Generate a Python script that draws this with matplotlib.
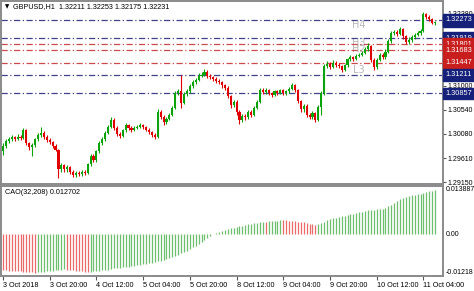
import numpy as np
import matplotlib
matplotlib.use("Agg")
import matplotlib.pyplot as plt
import matplotlib.transforms as mtransforms

# ---- data (GBPUSD H1) ----
first_open = 1.2975
closes = [1.2985, 1.2995, 1.2998, 1.3002, 1.2999, 1.3003, 1.3001, 1.3016, 1.2990, 1.2983,
          1.2986, 1.2998, 1.3006, 1.3010, 1.3003, 1.2997, 1.2992, 1.2985, 1.2978, 1.2940,
          1.2948, 1.2940, 1.2944, 1.2935, 1.2929, 1.2934, 1.2931, 1.2936, 1.2934, 1.2950,
          1.2966, 1.2958, 1.2975, 1.2990, 1.2998, 1.3010, 1.3022, 1.3035, 1.3020, 1.3008,
          1.3005, 1.3015, 1.3025, 1.3020, 1.3016, 1.3020, 1.3022, 1.3025, 1.3021, 1.3016,
          1.3011, 1.3006, 1.3002, 1.3050, 1.3040, 1.3030, 1.3037, 1.3045, 1.3058, 1.3086,
          1.3090, 1.3068, 1.3085, 1.3090, 1.3100, 1.3107, 1.3112, 1.3120, 1.3122, 1.3126,
          1.3120, 1.3117, 1.3114, 1.3110, 1.3107, 1.3101, 1.3097, 1.3080, 1.3064, 1.3070,
          1.3050, 1.3034, 1.3042, 1.3040, 1.3050, 1.3045, 1.3058, 1.3070, 1.3092, 1.3088,
          1.3092, 1.3086, 1.3083, 1.3090, 1.3087, 1.3092, 1.3086, 1.3090, 1.3095, 1.3102,
          1.3092, 1.3071, 1.3055, 1.3062, 1.3045, 1.3040, 1.3048, 1.3035, 1.3060, 1.3086,
          1.3138, 1.3142, 1.3137, 1.3145, 1.3141, 1.3138, 1.3131, 1.3140, 1.3151, 1.3155,
          1.3152, 1.3158, 1.3160, 1.3164, 1.3170, 1.3176, 1.3150, 1.3136, 1.3150, 1.3160,
          1.3155, 1.3166, 1.3186, 1.3201, 1.3204, 1.3200, 1.3209, 1.3195, 1.3185, 1.3189,
          1.3193, 1.3198, 1.3201, 1.3206, 1.3238, 1.3233, 1.3228, 1.32211, 1.32231]
highs = [1.2990, 1.2999, 1.3003, 1.3006, 1.3005, 1.3008, 1.3006, 1.3019, 1.3018, 1.2993,
         1.2990, 1.3001, 1.3010, 1.3022, 1.3013, 1.3006, 1.3000, 1.2995, 1.2988, 1.2980,
         1.2952, 1.2951, 1.2948, 1.2946, 1.2938, 1.2937, 1.2937, 1.2939, 1.2939, 1.2953,
         1.2970, 1.2969, 1.2978, 1.2994, 1.3002, 1.3014, 1.3026, 1.3041, 1.3038, 1.3023,
         1.3011, 1.3018, 1.3029, 1.3028, 1.3023, 1.3023, 1.3026, 1.3029, 1.3028, 1.3024,
         1.3019, 1.3014, 1.3009, 1.3055, 1.3053, 1.3044, 1.3041, 1.3049, 1.3062, 1.3090,
         1.3095, 1.3121, 1.3089, 1.3094, 1.3104, 1.3111, 1.3116, 1.3124, 1.3126, 1.3132,
         1.3130, 1.3123, 1.3120, 1.3117, 1.3113, 1.3110, 1.3104, 1.3100, 1.3083, 1.3074,
         1.3073, 1.3053, 1.3046, 1.3046, 1.3054, 1.3053, 1.3062, 1.3074, 1.3096, 1.3096,
         1.3096, 1.3095, 1.3089, 1.3093, 1.3093, 1.3095, 1.3095, 1.3093, 1.3099, 1.3106,
         1.3104, 1.3094, 1.3074, 1.3066, 1.3065, 1.3049, 1.3052, 1.3051, 1.3064, 1.3090,
         1.3142, 1.3147, 1.3146, 1.3149, 1.3148, 1.3144, 1.3141, 1.3143, 1.3154, 1.3159,
         1.3158, 1.3161, 1.3164, 1.3168, 1.3174, 1.3182, 1.3179, 1.3153, 1.3154, 1.3164,
         1.3163, 1.3170, 1.3190, 1.3205, 1.3208, 1.3207, 1.3213, 1.3212, 1.3198, 1.3193,
         1.3197, 1.3202, 1.3205, 1.3210, 1.3242, 1.3240, 1.3236, 1.3231, 1.32253]
lows = [1.2968, 1.2981, 1.2991, 1.2995, 1.2995, 1.2996, 1.2997, 1.2999, 1.2986, 1.2978,
        1.2965, 1.2983, 1.2995, 1.3003, 1.2999, 1.2993, 1.2988, 1.2981, 1.2975, 1.2924,
        1.2936, 1.2936, 1.2936, 1.2931, 1.2925, 1.2926, 1.2927, 1.2928, 1.2930, 1.2931,
        1.2947, 1.2954, 1.2955, 1.2971, 1.2986, 1.2995, 1.3007, 1.3019, 1.3016, 1.3004,
        1.3001, 1.3002, 1.3012, 1.3016, 1.3012, 1.3013, 1.3017, 1.3019, 1.3018, 1.3013,
        1.3008, 1.3003, 1.2998, 1.3000, 1.3036, 1.3026, 1.3027, 1.3034, 1.3042, 1.3055,
        1.3082, 1.3058, 1.3065, 1.3081, 1.3087, 1.3097, 1.3104, 1.3109, 1.3117, 1.3119,
        1.3116, 1.3113, 1.3110, 1.3106, 1.3103, 1.3097, 1.3093, 1.3076, 1.3058, 1.3060,
        1.3045, 1.3028, 1.3030, 1.3035, 1.3036, 1.3041, 1.3042, 1.3055, 1.3067, 1.3084,
        1.3085, 1.3082, 1.3079, 1.3080, 1.3083, 1.3084, 1.3083, 1.3083, 1.3087, 1.3092,
        1.3088, 1.3067, 1.3050, 1.3051, 1.3041, 1.3036, 1.3037, 1.3030, 1.3032, 1.3045,
        1.3083, 1.3134, 1.3133, 1.3134, 1.3137, 1.3134, 1.3127, 1.3128, 1.3137, 1.3148,
        1.3148, 1.3149, 1.3155, 1.3157, 1.3161, 1.3167, 1.3146, 1.3130, 1.3132, 1.3147,
        1.3151, 1.3152, 1.3163, 1.3183, 1.3197, 1.3196, 1.3197, 1.3191, 1.3180, 1.3181,
        1.3185, 1.3190, 1.3195, 1.3198, 1.3203, 1.3229, 1.3224, 1.3218, 1.32175]

cao = [-0.0104, -0.0105, -0.0106, -0.0106, -0.0107, -0.0108, -0.0108, -0.0109, -0.0110, -0.0110,
       -0.0111, -0.0112, -0.0111, -0.0110, -0.0109, -0.0108, -0.0107, -0.0106, -0.0105, -0.0104,
       -0.0103, -0.0102, -0.0103, -0.0104, -0.0105, -0.0106, -0.0107, -0.0108, -0.0109, -0.0110,
       -0.0109, -0.0108, -0.0107, -0.0106, -0.0105, -0.0104, -0.0103, -0.0101, -0.0100, -0.0099,
       -0.0098, -0.0097, -0.0096, -0.0095, -0.0094, -0.0092, -0.0091, -0.0090, -0.0088, -0.0087,
       -0.0085, -0.0083, -0.0081, -0.0079, -0.0077, -0.0075, -0.0072, -0.0069, -0.0066, -0.0063,
       -0.0060, -0.0056, -0.0052, -0.0048, -0.0044, -0.0039, -0.0034, -0.0029, -0.0023, -0.0017,
       -0.0011, -0.0005, -0.0001, 0.0002, 0.0006, 0.0009, 0.0012, 0.0014, 0.0016, 0.0018,
       0.0020, 0.0022, 0.0024, 0.0026, 0.0028, 0.0030, 0.0032, 0.0033, 0.0035, 0.0036,
       0.0036, 0.0037, 0.00375, 0.0038, 0.00385, 0.0040, 0.00395, 0.0039, 0.00385, 0.0038,
       0.0037, 0.0036, 0.0035, 0.0034, 0.0032, 0.0030, 0.0028, 0.0026, 0.0029, 0.0032,
       0.0036, 0.0040, 0.0043, 0.0045, 0.0047, 0.0049, 0.0051, 0.0053, 0.0055, 0.0057,
       0.0059, 0.0061, 0.0063, 0.0065, 0.0066, 0.0068, 0.0069, 0.0070, 0.0071, 0.0072,
       0.0073, 0.0076, 0.0080, 0.0085, 0.0090, 0.0095, 0.0100, 0.0104, 0.0107, 0.0110,
       0.0112, 0.0114, 0.0116, 0.0117, 0.0119, 0.0121, 0.0123, 0.0125, 0.0127]

levels = [1.32273, 1.31919, 1.31801, 1.31683, 1.31447, 1.31211, 1.30857]
level_kind = ["blue", "blue", "red", "red", "red", "blue", "blue"]
pivot_names = ["H4", "H3", "H2", "L3"]
pivot_prices = [1.32169, 1.31824, 1.31709, 1.31306]
price_ticks = [1.29150, 1.29610, 1.30080, 1.30540, 1.31000, 1.32380]
time_labels = ["3 Oct 2018", "3 Oct 20:00", "4 Oct 12:00", "5 Oct 04:00", "5 Oct 20:00",
               "8 Oct 12:00", "9 Oct 04:00", "9 Oct 20:00", "10 Oct 12:00", "11 Oct 04:00"]
bars_per_label = 16
title = "GBPUSD,H1  1.32211 1.32253 1.32175 1.32231"
ind_title = "CAO(32,208) 0.012702"
ind_min, ind_max = -0.01218, 0.013887
bid = 1.32231

# ---- styling ----
plt.rcParams["font.family"] = ["Liberation Sans", "DejaVu Sans"]
UP, DN = "#0aa30a", "#e00000"
H_UP, H_DN = "#6cbf6c", "#ea6a6a"
NAVY, RED = "#14207a", "#c81e1e"
LN_BLUE, LN_RED = "#40408c", "#cc4a4a"
FRAME = "#8a8a8a"
FS = 5.0

W, H = 474, 291
fig = plt.figure(figsize=(W / 100, H / 100), dpi=100)
ax = fig.add_axes([1 / W, 1 - 184 / H, 442 / W, 183 / H])
axi = fig.add_axes([1 / W, 1 - 276 / H, 442 / W, 90 / H], sharex=ax)

n = len(closes)
x = np.arange(n)
c = np.array(closes)
o = np.concatenate([[first_open], c[:-1]])
hi = np.array(highs)
lo = np.array(lows)
col = np.where(c >= o, UP, DN)

ax.vlines(x, lo, hi, colors=col, lw=0.8, zorder=3)
body = np.maximum(np.abs(c - o), 0.00006)
ax.bar(x, body, bottom=np.minimum(o, c), width=0.72, color=col, lw=0, zorder=4)

for lv, k in zip(levels, level_kind):
    ax.axhline(lv, color=LN_BLUE if k == "blue" else LN_RED, lw=0.9,
               ls=(0, (5, 2, 1, 2)), zorder=2)

for name, p in zip(pivot_names, pivot_prices):
    ax.text(122, p, name, color="#b8b8b8", fontsize=7, ha="center", va="center",
            family="DejaVu Sans", zorder=1)

ax.set_xlim(-0.68, 150.7)
ax.set_ylim(1.29121, 1.32629)
ax.yaxis.tick_right()
ax.set_yticks(price_ticks)
ax.set_yticklabels([f"{t:.5f}" for t in price_ticks])
ax.tick_params(axis="y", labelsize=FS, length=2, pad=1, color="#555555")
ax.tick_params(axis="x", bottom=False, labelbottom=False)

# price boxes on the right
tr = mtransforms.blended_transform_factory(ax.transAxes, ax.transData)
box_items = [(bid, NAVY), (levels[0], NAVY), (levels[1], NAVY), (levels[2], RED),
             (levels[3], RED), (levels[4], RED), (levels[5], NAVY), (levels[6], NAVY)]
for p, bc in box_items:
    ax.text(1.006, p, f"{p:.5f}", transform=tr, fontsize=FS + 0.3, color="white",
            ha="left", va="center", clip_on=False, zorder=10,
            bbox=dict(boxstyle="square,pad=0.3", fc=bc, ec=bc))

# indicator histogram
vals = np.array(cao)
hcol = [H_DN] + [H_UP if vals[i] > vals[i - 1] else H_DN for i in range(1, n)]
axi.vlines(x, 0, vals, colors=hcol, lw=0.9)
axi.set_ylim(ind_min, ind_max)
axi.yaxis.tick_right()
axi.set_yticks([ind_min, 0, ind_max])
axi.set_yticklabels(["-0.01218", "0.00", "0.013887"])
axi.tick_params(axis="y", labelsize=FS, length=0, pad=2)
ylabs = axi.get_yticklabels()
ylabs[0].set_va("bottom")
ylabs[2].set_va("top")

axi.set_xticks(x[::bars_per_label][:len(time_labels)])
axi.set_xticklabels(time_labels)
axi.tick_params(axis="x", labelsize=FS + 0.2, length=3, pad=1.5, color="#555555")
for t in axi.get_xticklabels():
    t.set_ha("left")

for a in (ax, axi):
    for s in a.spines.values():
        s.set_color(FRAME)
        s.set_linewidth(1.4)

fig.text(5 / W, 1 - 7 / H, "\u25bc", fontsize=4, va="center", ha="left", family="DejaVu Sans")
fig.text(13 / W, 1 - 7 / H, title, fontsize=FS + 0.2, va="center", ha="left")
fig.text(5 / W, 1 - 193 / H, ind_title, fontsize=FS + 0.2, va="center", ha="left")

fig.savefig("out.png", dpi=100)
